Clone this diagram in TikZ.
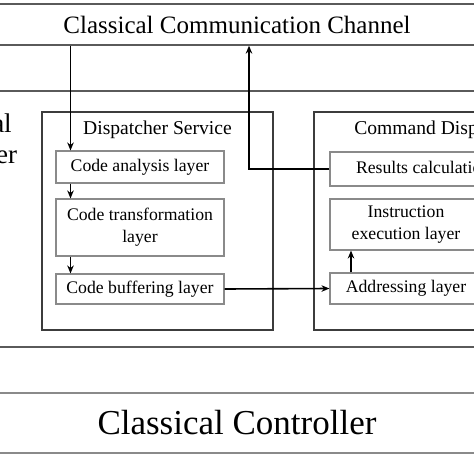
\documentclass[tikz,border=0pt]{standalone}
\usepackage{fontspec}
\setmainfont{Liberation Serif}
\usetikzlibrary{arrows.meta,positioning,calc}
\definecolor{edgegray}{HTML}{3C3C3C}
\definecolor{boxgray}{HTML}{8A8A8A}
\definecolor{bandgray}{HTML}{5A5A5A}
\tikzset{
  >={Stealth[length=8pt,width=6.5pt]},
  % baender
  band/.style={draw=bandgray,line width=1.3pt,minimum width=540pt,inner sep=0pt},
  svc/.style={draw=edgegray,line width=1.4pt,inner sep=0pt},
  svclbl/.style={font=\fontsize{19.6}{23}\selectfont,inner sep=0pt},
  % schichten
  layer/.style={draw=boxgray,line width=1.1pt,inner sep=0pt,align=center,
                font=\fontsize{17.7}{22}\selectfont},
  flow/.style={->,draw=black,line width=1.6pt},
}
\begin{document}
\begin{tikzpicture}[x=1pt,y=-1pt]
\useasboundingbox (0,0) rectangle (474,474);
\clip (0,0) rectangle (474,474);
  \node[band,minimum height=41pt] (chan) at (237,24.5)
    {\fontsize{25}{30}\selectfont Classical Communication Channel};
  \node[band,minimum height=256pt] (comp) at (237,219) {};
  \node[band,minimum height=60pt,draw=boxgray] (ctrl) at (237,423)
    {\fontsize{35}{42}\selectfont Classical Controller};
  \node[align=center,inner sep=0pt,font=\fontsize{27}{31}\selectfont] (complbl)
    at (-37,142) {Classical\\Computer};
  % dispatcher service
  \node[svc,minimum width=231pt,minimum height=218pt] (disp) at (157.5,221) {};
  \node[svclbl] (displbl) at (157.5,129.5) {Dispatcher Service};
  \node[layer,minimum width=168pt,minimum height=32pt] (anl) at (140,167)
    {Code analysis layer};
  \node[layer,minimum width=168pt,minimum height=57pt] (trf) at (140,227.5)
    {Code transformation\\layer};
  \node[layer,minimum width=168pt,minimum height=30pt] (buf) at (140,289)
    {Code buffering layer};
  % command dispatcher
  \node[svc,minimum width=252pt,minimum height=218pt] (cmd) at (440,221) {};
  \node[svclbl] (cmdlbl) at (440,129.5) {Command Dispatcher};
  \node[layer,minimum width=226pt,minimum height=34pt] (res) at (443,169)
    {Results calculation layer};
  \node[layer,minimum width=152pt,minimum height=51pt] (ins) at (406,224.5)
    {Instruction\\execution layer};
  \node[layer,minimum width=152pt,minimum height=31pt] (adr) at (406,288.5)
    {Addressing layer};
  \coordinate (in) at (70.5,0);
  \coordinate (up) at (351,0);
  \coordinate (out) at (249,0);
  \draw[flow] (in |- chan.south) -- (in |- anl.north);
  \draw[flow] (in |- anl.south) -- (in |- trf.north);
  \draw[flow] (in |- trf.south) -- (in |- buf.north);
  \draw[flow] (buf.east) -- (adr.west);
  \draw[flow] (up |- adr.north) -- (up |- ins.south);
  \draw[flow] (res.west) -| (out |- chan.south);
\end{tikzpicture}
\end{document}
